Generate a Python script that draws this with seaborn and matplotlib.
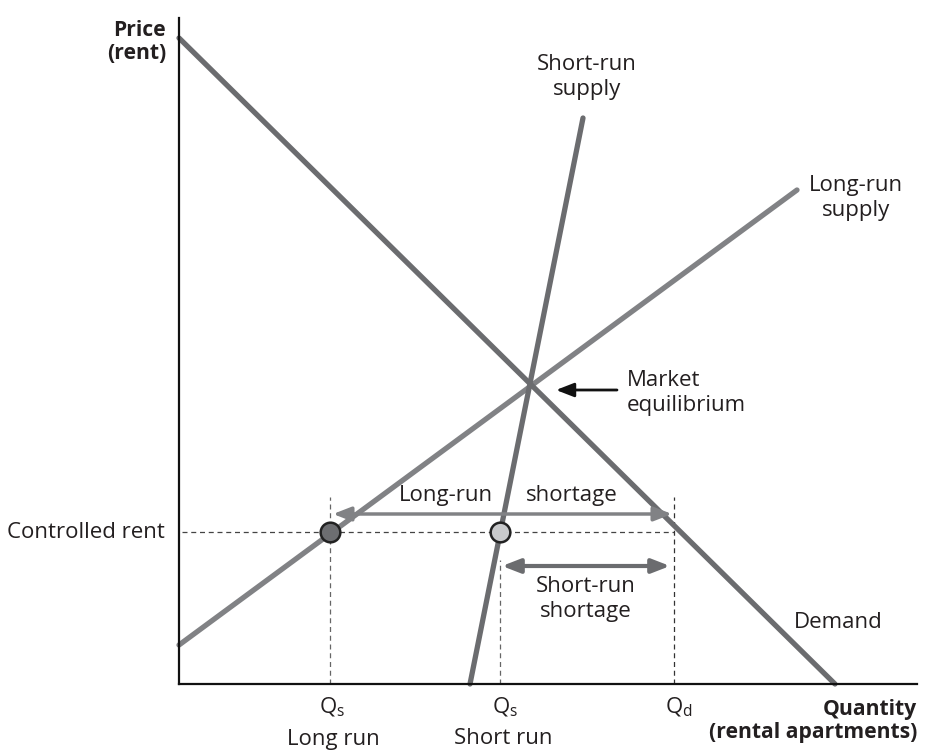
import matplotlib
matplotlib.use("Agg")
import matplotlib.pyplot as plt
import seaborn as sns
import pandas as pd

# ---- data (quantity / price units on the chart's own scale) ----
demand_q = [0, 656]
demand_p = [646, 0]
lr_supply_q = [0, 618]
lr_supply_p = [39, 494]
sr_supply_q = [291, 404]
sr_supply_p = [0, 566]

controlled_rent = 152
qs_long = 151
qs_short = 321
qd = 495
equilibrium = (351, 299)

lr_shortage_p = 170
sr_shortage_p = 118

tick_labels = ["Long run", "Short run"]

sns.set_theme(style="white")
plt.rcParams['font.family'] = ['Open Sans', 'DejaVu Sans']

fig = plt.figure(figsize=(9.4, 7.54), dpi=100)
W, H = 940, 754
x0, y0, x1, y1 = 179, 684, 917, 18
ax = fig.add_axes([x0 / W, (H - y0) / H, (x1 - x0) / W, (y0 - y1) / H])
ax.set_xlim(0, x1 - x0)
ax.set_ylim(0, y0 - y1)

dark = "#6b6c6f"
light = "#818285"

df_d = pd.DataFrame({"q": demand_q, "p": demand_p})
df_l = pd.DataFrame({"q": lr_supply_q, "p": lr_supply_p})
df_s = pd.DataFrame({"q": sr_supply_q, "p": sr_supply_p})
sns.lineplot(data=df_l, x="q", y="p", ax=ax, color=light, lw=3.8, sort=False, clip_on=False)
sns.lineplot(data=df_d, x="q", y="p", ax=ax, color=dark, lw=3.8, sort=False, clip_on=False)
sns.lineplot(data=df_s, x="q", y="p", ax=ax, color=dark, lw=3.8, sort=False, clip_on=False)

# dashed guide lines
ax.plot([3, qd], [controlled_rent, controlled_rent], ls=(0, (4, 3)), color="#444444", lw=0.9, zorder=1)
ax.plot([qs_long, qs_long], [0, 187], ls=(0, (4, 3)), color="#666666", lw=0.9, zorder=1)
ax.plot([qs_short, qs_short], [0, 124], ls=(0, (4, 3)), color="#666666", lw=0.9, zorder=1)
ax.plot([qd, qd], [0, 187], ls=(0, (4, 3)), color="#333333", lw=0.9, zorder=1)

# shortage arrows
ax.annotate("", xy=(qs_long + 3, lr_shortage_p), xytext=(qd - 2, lr_shortage_p),
            arrowprops=dict(arrowstyle="<|-|>,head_length=0.9,head_width=0.35",
                            color=light, lw=2.5, shrinkA=0, shrinkB=0), zorder=4)
ax.annotate("", xy=(qs_short + 2, sr_shortage_p), xytext=(qd - 4, sr_shortage_p),
            arrowprops=dict(arrowstyle="<|-|>,head_length=0.9,head_width=0.35",
                            color=dark, lw=3, shrinkA=0, shrinkB=0), zorder=4)

# equilibrium arrow
ax.annotate("", xy=(equilibrium[0] + 26, equilibrium[1] - 5), xytext=(equilibrium[0] + 87, equilibrium[1] - 5),
            arrowprops=dict(arrowstyle="-|>,head_length=0.9,head_width=0.35",
                            color="#111111", lw=2, shrinkA=0, shrinkB=0))

# points
sns.scatterplot(x=[qs_long], y=[controlled_rent], ax=ax, s=200, color="#6d6e71",
                edgecolor="#222222", linewidth=1.8, zorder=6, clip_on=False)
sns.scatterplot(x=[qs_short], y=[controlled_rent], ax=ax, s=200, color="#c8c9cb",
                edgecolor="#222222", linewidth=1.8, zorder=6, clip_on=False)

for s in ["top", "right"]:
    ax.spines[s].set_visible(False)
for s in ["left", "bottom"]:
    ax.spines[s].set_color("#111111")
    ax.spines[s].set_linewidth(1.6)
ax.set_xticks([])
ax.set_yticks([])
ax.set_xlabel("")
ax.set_ylabel("")


def px(x, y):
    return x / W, 1 - y / H

fs = 16
ls2 = 1.2
tc = "#231f20"
fig.text(*px(166, 42), "Price\n(rent)", ha="right", va="center", fontsize=15.2,
         fontweight="bold", color=tc, linespacing=1.15)
fig.text(*px(587, 77), "Short-run\nsupply", ha="center", va="center", fontsize=fs, color=tc, linespacing=ls2)
fig.text(*px(856, 198), "Long-run\nsupply", ha="center", va="center", fontsize=fs, color=tc, linespacing=ls2)
fig.text(*px(627, 393), "Market\nequilibrium", ha="left", va="center", fontsize=fs, color=tc, linespacing=ls2)
fig.text(*px(446, 496), "Long-run", ha="center", va="center", fontsize=fs, color=tc)
fig.text(*px(572, 496), "shortage", ha="center", va="center", fontsize=fs, color=tc)
fig.text(*px(586, 599), "Short-run\nshortage", ha="center", va="center", fontsize=fs, color=tc, linespacing=ls2)
fig.text(*px(838, 622), "Demand", ha="center", va="center", fontsize=fs, color=tc)
fig.text(*px(165, 533), "Controlled rent", ha="right", va="center", fontsize=fs, color=tc)

fig.text(*px(332, 707), r"$\mathregular{Q_s}$", ha="center", va="center", fontsize=fs, color=tc)
fig.text(*px(505, 707), r"$\mathregular{Q_s}$", ha="center", va="center", fontsize=fs, color=tc)
fig.text(*px(679, 707), r"$\mathregular{Q_d}$", ha="center", va="center", fontsize=fs, color=tc)
fig.text(*px(333, 739), tick_labels[0], ha="center", va="center", fontsize=fs, color=tc)
fig.text(*px(503, 739), tick_labels[1], ha="center", va="center", fontsize=fs, color=tc)
fig.text(*px(917, 721), "Quantity\n(rental apartments)", ha="right", va="center", fontsize=15.2,
         fontweight="bold", color=tc, linespacing=1.15)

fig.savefig("out.png", dpi=100)
